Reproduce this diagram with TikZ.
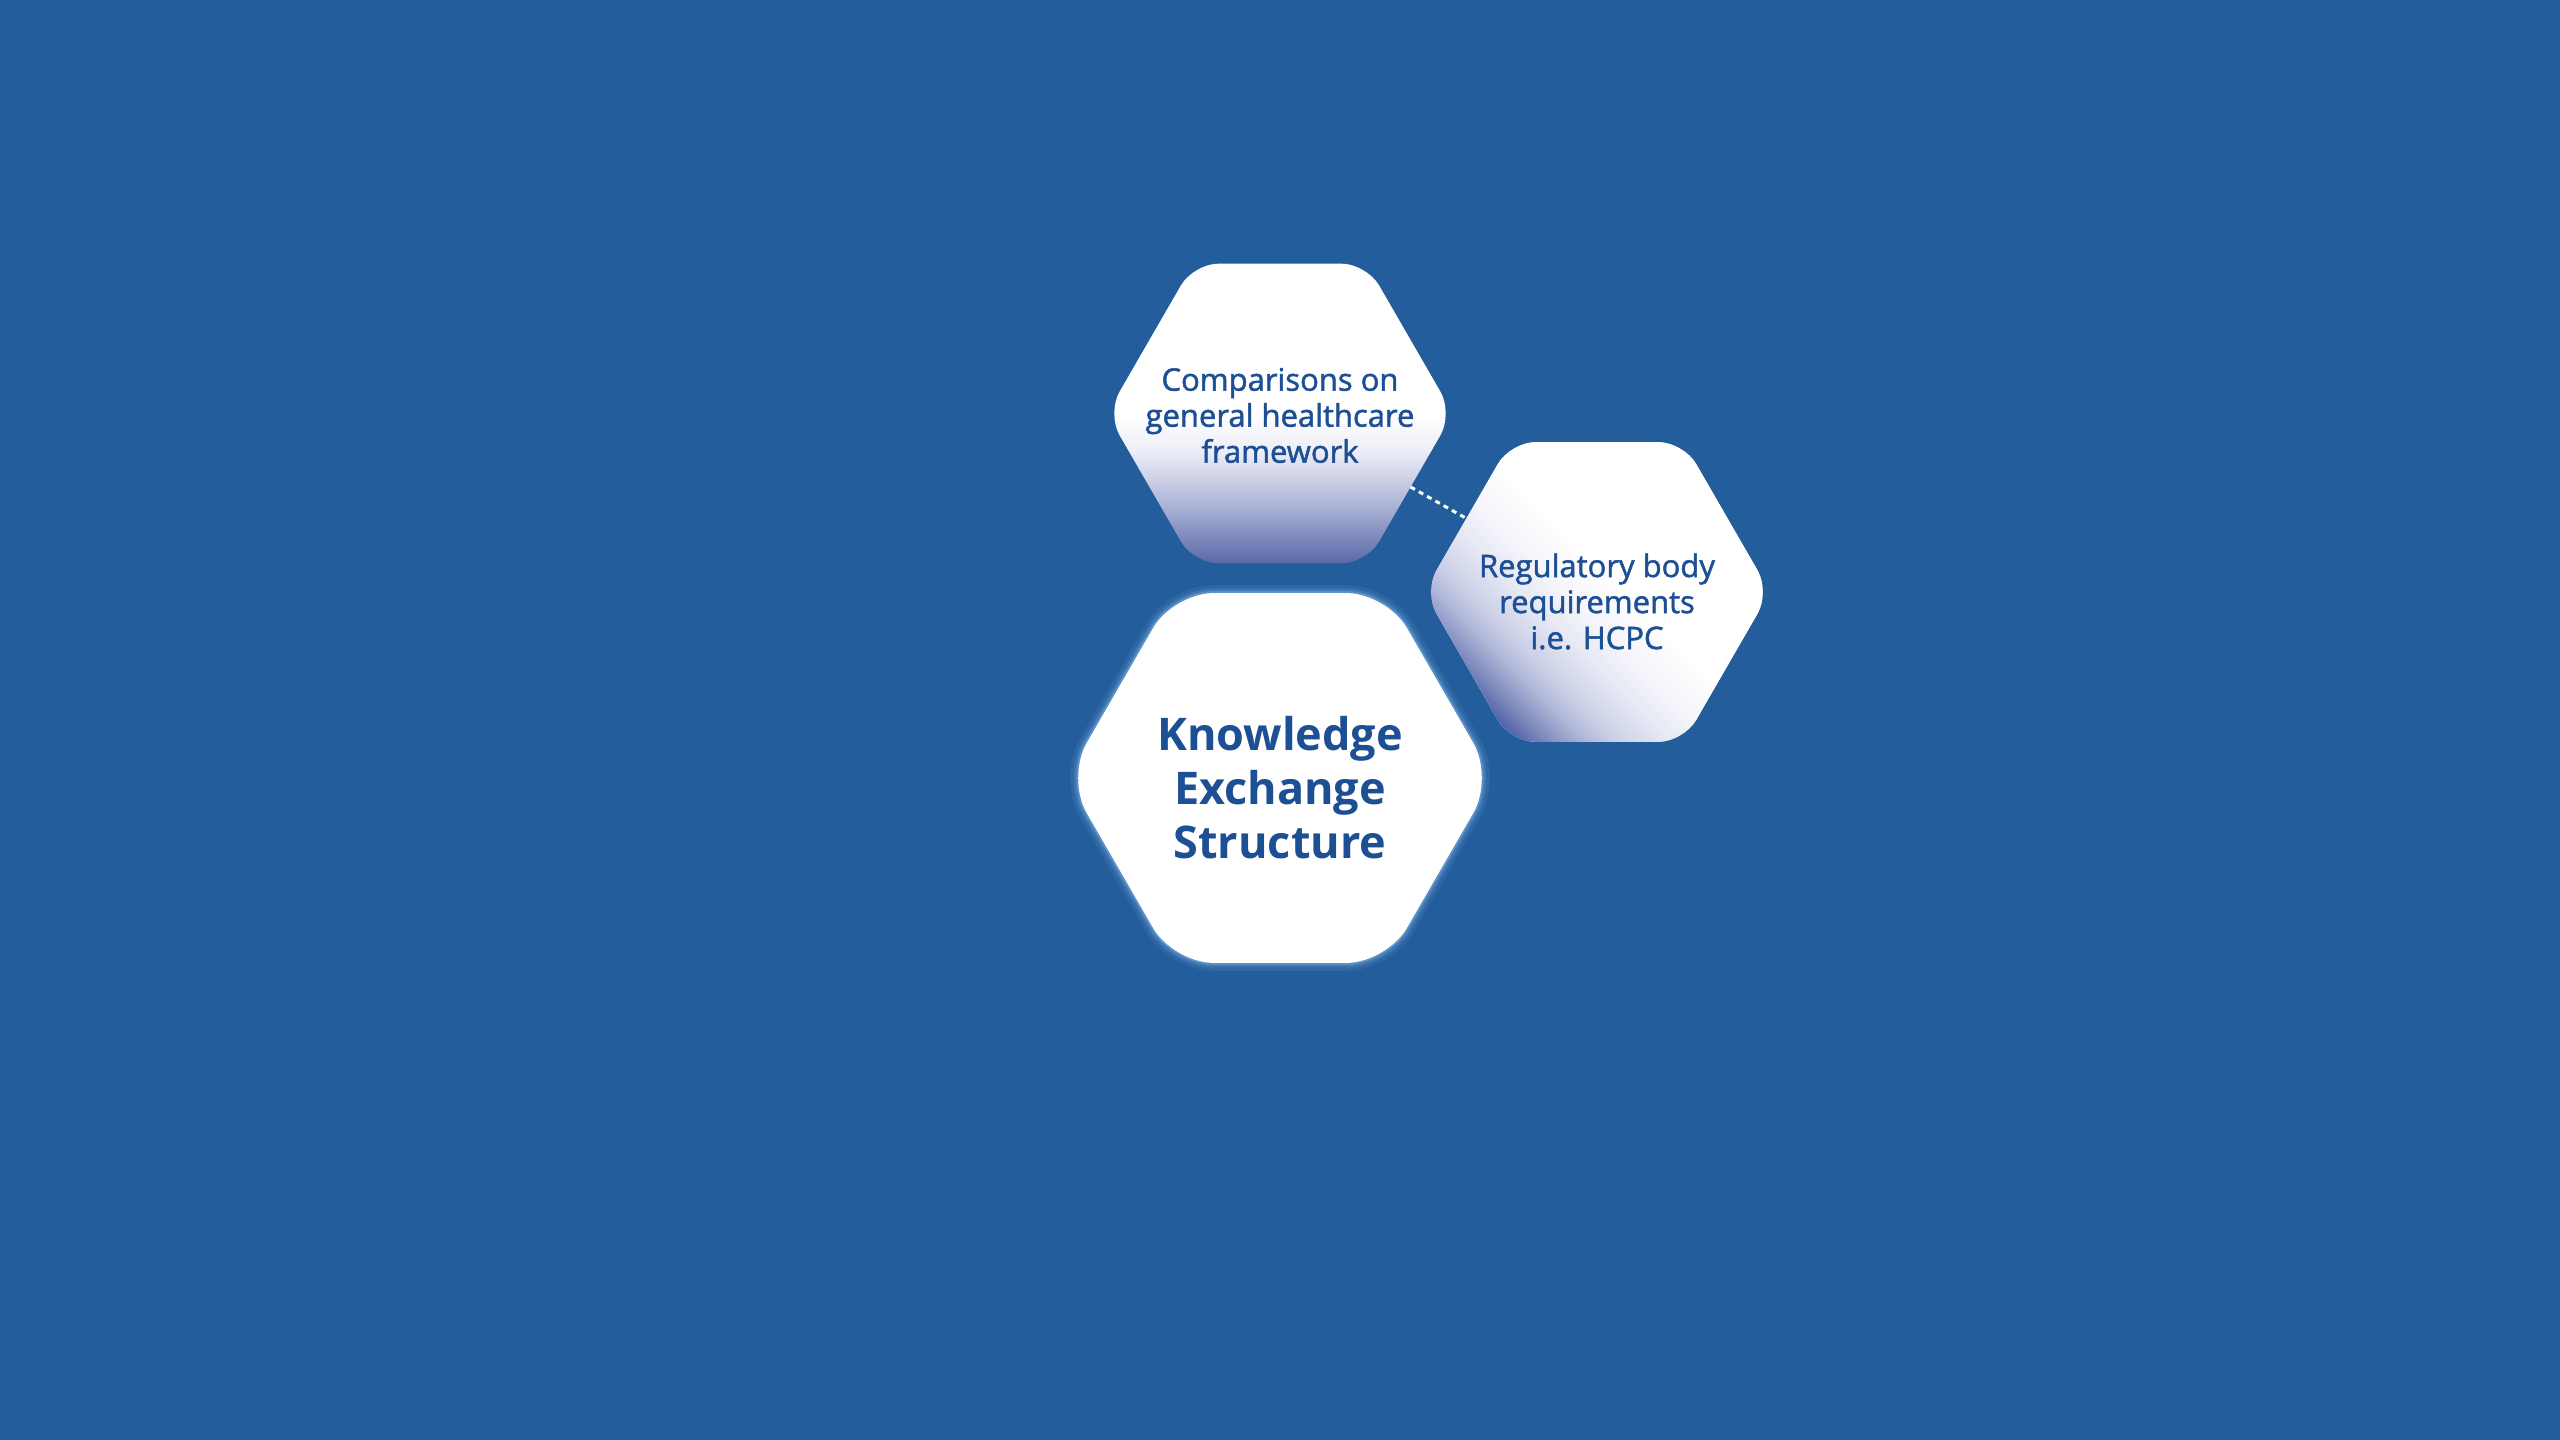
\documentclass[tikz,border=0pt]{standalone}
\usepackage{fontspec}
\setmainfont{Open Sans}
\usetikzlibrary{shapes.geometric}
\definecolor{bg}{HTML}{235D9C}
\definecolor{txt}{HTML}{1C4F94}
\definecolor{glow}{HTML}{7FB0E6}
\definecolor{ga}{HTML}{5A68A7}
\definecolor{gb}{HTML}{A6AED3}
\definecolor{gc}{HTML}{D3D7EA}
\definecolor{gd}{HTML}{EEEFF7}
\definecolor{ra}{HTML}{4E5EA4}
\definecolor{rb}{HTML}{5565A8}
\definecolor{rc}{HTML}{8A94C4}
\definecolor{rd}{HTML}{ADB4D7}
\definecolor{re}{HTML}{CDD1E8}
\definecolor{rf}{HTML}{E6E8F3}
\definecolor{rg}{HTML}{F6F6FB}
\pgfdeclareverticalshading{topgrad}{100bp}{color(0bp)=(ga); color(25bp)=(ga); color(34bp)=(gb); color(40bp)=(gc); color(44bp)=(gd); color(50bp)=(white); color(100bp)=(white)}
\pgfdeclareverticalshading{rightgrad}{100bp}{color(0bp)=(ra); color(34bp)=(rb); color(36.5bp)=(rc); color(38.5bp)=(rd); color(41bp)=(re); color(44.5bp)=(rf); color(48bp)=(rg); color(52bp)=(white); color(100bp)=(white)}
\begin{document}
\begin{tikzpicture}[x=1pt,y=1pt,
  hexnode/.style={regular polygon, regular polygon sides=6, minimum size=#1, inner sep=0pt, outer sep=0pt},
  smalltext/.style={font=\fontsize{31}{36}\selectfont\addfontfeatures{FakeBold=1.5}, text=txt, align=center, inner sep=0pt},
  bigtext/.style={font=\fontsize{45}{54}\selectfont\bfseries, text=txt, align=center, inner sep=0pt},
  connector/.style={draw=white, line width=3pt, dash pattern=on 5pt off 4.5pt}]
\fill[bg] (0,0) rectangle (2560,1440);
\useasboundingbox (0,0) rectangle (2560,1440);
% hexagons
\node[hexnode=346pt, rounded corners=25pt, shade, shading=topgrad] (hT) at (1280,1026.5) {};
\node[hexnode=346pt, rounded corners=25pt, fill=white,
  path picture={\shade[shading=rightgrad, sharp corners,
    transform canvas={rotate around={-45:(path picture bounding box.center)}}]
    ([shift={(-250,-250)}]path picture bounding box.center) rectangle ++(500,500);}] (hR) at (1597,848) {};
\node[hexnode=427pt, rounded corners=40pt, fill=white,
  preaction={draw=glow, line width=16pt, draw opacity=.12},
  preaction={draw=glow, line width=9pt, draw opacity=.22},
  preaction={draw=glow, line width=4pt, draw opacity=.45}] (hB) at (1280,662) {};
% texts
\node[smalltext] (tT) at (1280,1024.5) {Comparisons on\\general healthcare\\framework};
\node[smalltext] (tR) at (1597,838.5) {Regulatory body\\requirements\\i.e. HCPC};
\node[bigtext] (tB) at (1280,652) {Knowledge\\Exchange\\Structure};
% connector
\draw[connector] (hT) -- (hR);
\end{tikzpicture}
\end{document}
